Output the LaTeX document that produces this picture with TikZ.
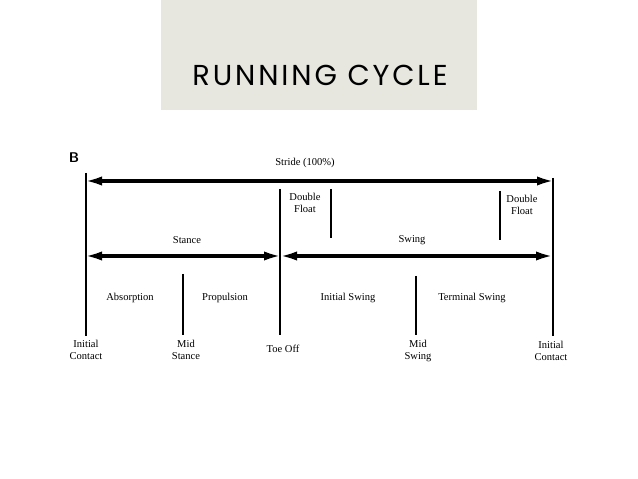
\documentclass[tikz,border=0pt]{standalone}
\usepackage{fontspec}
\setmainfont{Liberation Serif}
\newfontfamily\titlefont[LetterSpace=10]{Poppins}
\usetikzlibrary{arrows.meta}

\begin{document}
\begin{tikzpicture}[x=0.25mm, y=-0.25mm,
  lbl/.style={align=center, font=\fontsize{7.5}{8.6}\selectfont, inner sep=0pt},
  tick/.style={line width=0.6mm},
  span/.style={{Latex[length=4.5mm,width=2.3mm]}-{Latex[length=4.5mm,width=2.3mm]}, line width=0.85mm}
]
\useasboundingbox (0,0) rectangle (638,479);
\fill[white] (0,0) rectangle (638,479);

% title panel
\fill[black!11!white!97!yellow] (161,0) rectangle (477,110);
\node[font=\titlefont\fontsize{20.5}{24}\selectfont, inner sep=0pt] (title) at (320,75) {RUNNING CYCLE};
\node[font=\sffamily\bfseries\fontsize{10}{12}\selectfont, inner sep=0pt] (panel) at (74,158) {B};

% event lines
\coordinate (ic1top) at (86,173);  \coordinate (ic1bot) at (86,336);
\coordinate (ic2top) at (553,178); \coordinate (ic2bot) at (553,336);
\coordinate (totop) at (280,189);  \coordinate (tobot) at (280,335);
\coordinate (mstop) at (183,274);  \coordinate (msbot) at (183,335);
\coordinate (mwtop) at (416,276);  \coordinate (mwbot) at (416,335);
\coordinate (df1top) at (331,189); \coordinate (df1bot) at (331,238);
\coordinate (df2top) at (500,191); \coordinate (df2bot) at (500,240);
\draw[tick] (ic1top) -- (ic1bot);
\draw[tick] (ic2top) -- (ic2bot);
\draw[tick] (totop) -- (tobot);
\draw[tick] (mstop) -- (msbot);
\draw[tick] (mwtop) -- (mwbot);
\draw[tick] (df1top) -- (df1bot);
\draw[tick] (df2top) -- (df2bot);

% spans
\coordinate (strideL) at (84,181);  \coordinate (strideR) at (555,181);
\coordinate (stanceL) at (84,256);  \coordinate (stanceR) at (282,256);
\coordinate (swingL) at (279,256);  \coordinate (swingR) at (554,256);
\draw[span] (strideL) -- (strideR);
\draw[span] (stanceL) -- (stanceR);
\draw[span] (swingL) -- (swingR);

\node[lbl] (stride) at (305,163) {Stride (100\%)};
\node[lbl] (stance) at (187,240) {Stance};
\node[lbl] (swing) at (412,240) {Swing};
\node[lbl] (dfloat1) at (305,203) {Double\\Float};
\node[lbl] (dfloat2) at (522,205) {Double\\Float};

% phases
\node[lbl] (absorb) at (130,298) {Absorption};
\node[lbl] (propul) at (225,298) {Propulsion};
\node[lbl] (iswing) at (348,298) {Initial Swing};
\node[lbl] (tswing) at (472,298) {Terminal Swing};

% events
\node[lbl] (icont1) at (86,350) {Initial\\Contact};
\node[lbl] (mstance) at (186,350) {Mid\\Stance};
\node[lbl] (toeoff) at (283,349) {Toe Off};
\node[lbl] (mswing) at (418,351) {Mid\\Swing};
\node[lbl] (icont2) at (551,351) {Initial\\Contact};
\end{tikzpicture}
\end{document}
